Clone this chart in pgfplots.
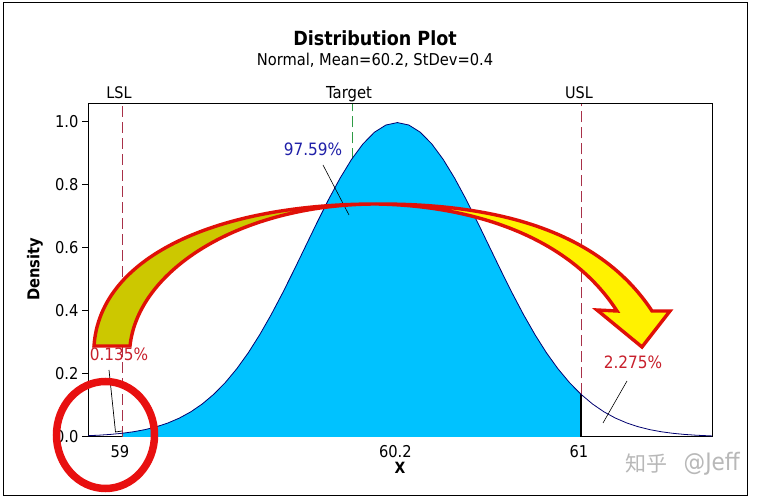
\documentclass[border=0pt]{standalone}
\usepackage{pgfplots}
\usepackage{pgfplotstable}
\usepackage{fontspec}
\pgfplotsset{compat=1.18}
\setmainfont{DejaVu Sans}[FakeStretch=0.9]
\newfontfamily\cjk{Noto Sans CJK SC}
\definecolor{cyanfill}{HTML}{00C2FF}
\definecolor{curveblue}{HTML}{000070}
\definecolor{speclines}{HTML}{A83048}
\definecolor{targetgreen}{HTML}{2E9B45}
\definecolor{olive}{HTML}{CCC800}
\definecolor{arrowred}{HTML}{E01008}
\definecolor{pctred}{HTML}{C8202C}
\definecolor{pctblue}{HTML}{2020A8}
\pgfplotstableread{
x y
58.85 .0034
58.90 .0051
58.95 .0076
59.00 .0111
}\lefttail
\pgfplotstableread{
x y
59.00 .0111
59.05 .0160
59.10 .0227
59.15 .0318
59.20 .0438
59.25 .0594
59.30 .0793
59.35 .1043
59.40 .1350
59.45 .1720
59.50 .2157
59.55 .2663
59.60 .3238
59.65 .3875
59.70 .4566
59.75 .5297
59.80 .6049
59.85 .6801
59.90 .7529
59.95 .8204
60.00 .8802
60.05 .9296
60.10 .9667
60.15 .9896
60.20 .9974
60.25 .9896
60.30 .9667
60.35 .9296
60.40 .8802
60.45 .8204
60.50 .7529
60.55 .6801
60.60 .6049
60.65 .5297
60.70 .4566
60.75 .3875
60.80 .3238
60.85 .2663
60.90 .2157
60.95 .1720
61.00 .1350
}\central
\pgfplotstableread{
x y
61.00 .1350
61.05 .1043
61.10 .0793
61.15 .0594
61.20 .0438
61.25 .0318
61.30 .0227
61.35 .0160
61.40 .0111
61.45 .0076
61.50 .0051
61.55 .0034
61.571 .0027
}\righttail
\begin{document}
\begin{tikzpicture}[x=1pt,y=1pt]
\path[use as bounding box,fill=white] (0,0) rectangle (758,497);
\begin{axis}[
  at={(88pt,60.2pt)},anchor=south west,
  scale only axis,width=624pt,height=333pt,
  xmin=58.852,xmax=61.571,ymin=0,ymax=1.057,
  axis line style={line width=1pt,black},
  xtick={59,60.2,61},xticklabels={59,60.2,61},
  ytick={0,0.2,0.4,0.6,0.8,1.0},yticklabels={0.0,0.2,0.4,0.6,0.8,1.0},
  xtick pos=bottom,ytick pos=left,tick align=outside,
  major tick length=6pt,
  xtick style={draw=none},
  ytick style={line width=.9pt,black},
  tick label style={font=\fontsize{16.3}{18}\selectfont},
  xticklabel style={xshift=-2pt,yshift=1pt},
  yticklabel style={xshift=0pt},
  xlabel={\textbf{X}},
  xlabel style={at={(axis description cs:0.500,-0.093)},anchor=center,font=\fontsize{15.5}{18}\selectfont},
  ylabel={\textbf{Density}},
  ylabel style={at={(axis description cs:-0.085,0.5)},anchor=center,rotate=0,xshift=1pt,font=\fontsize{16.3}{18}\selectfont},
  title={\textbf{\fontsize{19.5}{22}\selectfont Distribution Plot}},
  title style={at={(axis description cs:0.460,1.0)},anchor=base,yshift=52pt},
  clip=true,
  axis on top=false,
]
\addplot[draw=none,fill=cyanfill] table[x=x,y=y]{\central} \closedcycle;
\addplot[speclines,line width=.9pt,dash pattern=on 11pt off 5pt] coordinates {(59,0) (59,1.057)};
\addplot[speclines,line width=.9pt,dash pattern=on 11pt off 5pt] coordinates {(61,0.135) (61,1.057)};
\addplot[targetgreen,line width=.9pt,dash pattern=on 11pt off 5pt] coordinates {(60.004,0.8802) (60.004,1.057)};
\addplot[black,line width=1.4pt] coordinates {(61,0) (61,0.135)};
\addplot[curveblue,line width=.8pt] table[x=x,y=y]{\lefttail};
\addplot[curveblue,line width=.8pt] table[x=x,y=y]{\central};
\addplot[curveblue,line width=.8pt] table[x=x,y=y]{\righttail};
\end{axis}
\begin{scope}[y=-1pt,shift={(0,497pt)}]
\draw[line width=1.2pt,black] (3.5,2.5) rectangle (747.5,495.5);
\node[font=\fontsize{16.3}{18}\selectfont,anchor=base] at (375,66) {Normal, Mean=60.2, StDev=0.4};
% header labels
\node[font=\fontsize{16}{18}\selectfont,anchor=base] at (119,99) {LSL};
\node[font=\fontsize{16.5}{18}\selectfont,anchor=base] at (349,99) {Target};
\node[font=\fontsize{16}{18}\selectfont,anchor=base] at (579,99) {USL};
% leaders
\draw[black,line width=.6pt] (323,165) -- (349,215);
\draw[black,line width=.6pt] (627,381) -- (603,423);
\draw[black,line width=.7pt] (109,370) -- (115.5,432) -- (122,431);
% arrow
\draw[arrowred,line width=3.4pt,line join=miter,fill=olive]
  (94,346) .. controls (100,255) and (220,204) .. (376,204)
  .. controls (240,204.5) and (138,270) .. (130,346) -- cycle;
\draw[arrowred,line width=3.4pt,line join=miter,fill=yellow]
  (376,204) .. controls (500,203.5) and (600,232) .. (652,311)
  -- (670,311) -- (642,347) -- (597,310) -- (617,311)
  .. controls (568,235) and (470,205.5) .. (376,204) -- cycle;
% percent labels
\node[font=\fontsize{17}{19}\selectfont,text=pctblue] at (313,149) {97.59\%};
\node[font=\fontsize{17}{19}\selectfont,text=pctred] at (633,362) {2.275\%};
\node[font=\fontsize{17}{19}\selectfont,text=pctred] at (119,354) {0.135\%};
% red circle
\draw[draw={rgb,255:red,232;green,16;blue,16},line width=7.5pt] (105.5,435) ellipse [x radius=49,y radius=53.5];
% watermark
\node[text=black!28,font=\fontsize{21}{23}\selectfont,anchor=west,inner sep=0pt] at (625,464) {{\cjk 知乎}};
\node[text=black!28,font=\fontsize{24}{26}\selectfont,anchor=east,inner sep=0pt] at (740,464) {@Jeff};
\end{scope}
\end{tikzpicture}
\end{document}
